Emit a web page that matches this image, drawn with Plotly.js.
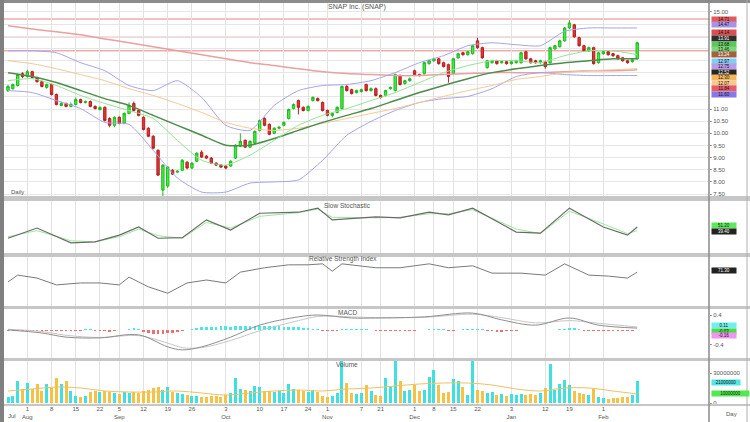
<!DOCTYPE html>
<html><head><meta charset="utf-8">
<script src="https://cdn.plot.ly/plotly-3.0.1.min.js"></script>
<style>html,body{margin:0;padding:0;background:#fff}#chart{width:750px;height:422px}</style>
</head><body><div id="chart"></div>
<script>
const chartTitle = 'SNAP Inc. (SNAP)';

const openP = [11.76,11.84,11.97,12.46,12.34,12.54,12.30,12.13,11.89,12.01,
11.60,11.15,11.23,11.11,11.19,11.39,11.27,11.31,11.11,10.98,
11.07,10.61,10.33,10.66,10.41,10.82,11.23,10.94,10.66,10.21,
9.88,9.30,7.66,7.83,8.48,8.40,8.48,8.81,8.57,8.85,
9.22,9.06,8.98,8.77,8.69,8.65,8.65,8.98,9.47,9.71,
9.43,9.59,10.12,10.61,10.37,10.00,10.21,10.33,10.61,11.02,
11.35,11.07,10.94,11.35,11.43,11.27,10.94,10.74,10.86,11.02,
11.93,11.80,11.68,11.72,12.01,11.76,11.84,11.56,11.56,11.84,
11.76,12.38,12.05,12.17,12.58,12.42,12.46,12.87,12.99,13.07,
12.91,12.83,12.46,13.11,13.32,13.24,13.28,13.81,13.53,12.71,
12.91,12.99,12.91,12.95,12.87,12.91,12.91,13.36,13.07,12.99,
12.91,12.95,12.91,13.48,13.57,13.81,14.34,14.47,13.94,13.61,
13.40,13.53,12.91,13.28,13.36,13.28,13.20,13.11,12.99,12.95,
13.07];
const closeP = [11.93,12.01,12.42,12.34,12.54,12.30,12.13,11.93,12.01,11.60,
11.19,11.23,11.11,11.19,11.39,11.27,11.31,11.11,11.02,11.07,
10.53,10.33,10.66,10.41,10.82,11.15,10.94,10.74,10.16,9.88,
9.39,8.28,8.69,8.61,8.32,8.44,8.89,8.57,8.77,9.18,
9.02,8.98,8.77,8.69,8.61,8.57,8.85,9.51,9.67,9.43,
9.67,10.08,10.53,10.33,9.96,10.21,10.25,10.45,10.98,11.19,
11.07,10.94,11.11,11.48,11.35,10.94,10.74,10.82,11.07,11.93,
11.76,11.64,11.76,11.80,11.76,11.84,11.56,11.48,11.76,11.89,
12.42,12.01,12.17,12.25,12.42,12.38,12.91,12.99,13.07,12.87,
12.75,12.34,13.07,13.28,13.24,13.36,13.61,13.53,13.11,12.99,
12.99,12.87,12.95,12.87,12.95,12.99,13.32,13.07,12.91,12.91,
12.99,12.75,13.53,13.61,13.81,14.34,14.55,13.98,13.61,13.40,
13.53,12.87,13.32,13.36,13.24,13.20,13.07,12.99,12.91,13.03,
13.73];
const highP = [12.00,12.05,12.46,12.52,12.62,12.58,12.34,12.17,12.05,12.05,
11.64,11.31,11.27,11.27,11.48,11.43,11.35,11.35,11.15,11.11,
11.11,10.66,10.70,10.70,10.86,11.27,11.31,10.98,10.70,10.25,
9.92,9.34,8.73,8.65,8.52,8.48,8.94,8.85,8.81,9.22,
9.30,9.10,9.02,8.81,8.73,8.69,8.89,9.55,10.00,9.75,
9.71,10.12,10.57,10.66,10.41,10.25,10.29,10.49,11.02,11.23,
11.39,11.11,11.15,11.52,11.48,11.31,10.98,10.86,11.11,11.97,
12.01,11.84,11.80,11.84,12.05,11.89,11.89,11.60,11.80,11.93,
12.46,12.42,12.21,12.30,12.62,12.46,12.95,13.03,13.11,13.11,
12.95,12.87,13.11,13.32,13.36,13.40,13.65,13.94,13.57,13.03,
13.03,13.03,12.99,12.99,12.99,13.03,13.36,13.40,13.11,13.03,
13.03,12.99,13.57,13.65,13.86,14.38,14.67,14.51,13.98,13.65,
13.57,13.57,13.36,13.40,13.40,13.32,13.24,13.15,13.03,13.07,
13.77];
const lowP = [11.70,11.80,11.93,12.28,12.30,12.25,12.09,11.89,11.84,11.56,
11.15,11.11,11.07,11.07,11.15,11.23,11.23,11.07,10.98,10.94,
10.49,10.25,10.25,10.37,10.37,10.78,10.90,10.70,10.12,9.84,
9.34,8.24,7.42,7.75,8.28,8.36,8.44,8.52,8.52,8.81,
8.98,8.94,8.73,8.65,8.57,8.52,8.61,8.94,9.43,9.39,
9.39,9.55,10.08,10.29,9.92,9.96,10.16,10.29,10.57,10.98,
10.78,10.90,10.90,11.31,11.31,10.90,10.70,10.66,10.82,10.98,
11.72,11.60,11.64,11.68,11.72,11.72,11.52,11.43,11.52,11.80,
11.72,11.97,12.01,12.13,12.38,12.34,12.42,12.83,12.95,12.83,
12.71,12.09,12.42,13.07,13.20,13.20,13.24,13.48,13.07,12.66,
12.87,12.83,12.87,12.83,12.83,12.87,12.87,13.03,12.87,12.87,
12.87,12.66,12.87,13.44,13.53,13.77,14.30,13.94,13.57,13.36,
13.36,12.83,12.87,13.24,13.20,13.15,13.03,12.95,12.87,12.91,
13.03];
// volume in millions of shares
const volume = [6,7,22,14,20,14,19,12,19,15,
25,19,22,12,7,6,7,11,12,11,
12,11,10,9,11,10,11,10,12,13,
15,16,13,16,11,10,9,8,7,7,
6,6,7,7,6,8,10,25,14,13,
12,17,16,12,12,11,12,10,19,14,
13,12,11,13,11,7,6,7,10,48,
20,10,9,10,18,12,8,7,25,16,
42,22,12,13,18,12,13,26,33,18,
10,11,24,22,16,8,45,13,12,10,
11,8,9,7,9,8,9,8,9,8,
10,15,39,13,19,23,18,12,10,9,
8,14,6,5,4,5,5,6,6,8,
22];

// indicator lines, sampled every 5 sessions
const lineIdx = [0,5,10,15,20,25,30,35,40,45,50,55,60,65,70,75,80,85,90,95,100,105,110,115,120,125,130];
const ma200 = [14.43,14.30,14.18,14.06,13.89,13.73,13.57,13.40,13.24,13.07,12.91,12.79,12.66,12.54,12.46,12.42,12.38,12.38,12.42,12.46,12.50,12.50,12.50,12.54,12.58,12.58,12.62];
const bbUpper = [13.40,13.40,13.32,12.91,12.58,11.97,11.76,12.17,11.48,10.33,10.12,11.15,11.76,11.97,12.01,12.17,12.50,12.91,13.20,13.61,13.73,13.65,13.61,14.20,14.34,14.34,14.34];
const bbLower = [11.76,11.68,11.35,11.02,10.45,10.37,9.30,8.16,7.58,7.58,7.95,8.00,8.08,8.89,9.92,10.49,10.94,11.27,11.43,11.52,11.84,12.34,12.50,12.42,12.38,12.38,12.38];
const ma50 = [12.50,12.34,12.09,11.76,11.43,11.15,10.74,10.33,9.92,9.51,9.51,9.79,10.12,10.45,10.74,11.02,11.35,11.68,11.97,12.25,12.50,12.66,12.79,12.91,12.99,13.07,13.07];
const ma100 = [12.99,12.87,12.66,12.42,12.17,11.84,11.56,11.23,10.86,10.45,10.21,10.12,10.21,10.41,10.61,10.82,11.02,11.27,11.52,11.76,11.97,12.22,12.34,12.50,12.58,12.62,12.66];
const ma20 = [12.17,12.25,11.97,11.56,11.23,10.94,10.61,9.71,8.89,8.69,9.10,9.71,10.33,10.74,11.02,11.35,11.68,12.09,12.50,12.79,12.99,12.99,12.91,13.20,13.40,13.40,13.24];
const volMA = [12,14,16,15,12,11,11,12,10,8,10,12,13,12,14,15,17,19,20,20,18,14,12,15,15,12,9];
const levels = [14.71, 13.98, 13.40];

const stochIdx = [0,6,13,18,23,27,31,36,41,46,52,60,64,67,76,81,87,91,96,105,110,116,123,128,130];
const stochK = [27,47,18,20,33,49,27,28,63,43,76,78,86,63,69,67,78,73,86,39,37,86,49,33,49];
const stochD = [30,42,22,20,30,45,32,27,58,47,70,77,84,68,67,68,75,75,83,45,36,80,55,36,42];

const rsiIdx = [0,2,6,10,15,19,23,25,29,33,37,41,45,48,53,58,62,65,67,69,76,81,87,91,96,100,106,111,115,120,124,128,130];
const rsi = [47,61,55,41,45,45,41,57,37,24,45,51,45,67,76,82,82,84,69,84,76,76,84,76,80,65,65,61,84,61,59,55,67];

const macdIdx = [0,7,12,19,27,33,36,40,46,52,60,64,71,76,86,96,102,109,116,122,130];
const macd = [0.00,-0.08,-0.19,-0.21,-0.13,-0.45,-0.53,-0.45,-0.19,0.13,0.35,0.40,0.32,0.32,0.35,0.45,0.27,0.13,0.32,0.13,0.05];
const signal = [0.02,-0.04,-0.14,-0.20,-0.15,-0.35,-0.47,-0.47,-0.28,-0.02,0.25,0.36,0.35,0.33,0.34,0.42,0.33,0.19,0.25,0.18,0.08];
const hist = [-0.03,-0.03,-0.02,-0.03,-0.03,-0.02,-0.03,-0.03,-0.02,-0.03,-0.03,-0.02,-0.03,-0.03,-0.02,-0.02,
0.03,0.03,
-0.03,-0.04,-0.04,-0.05,-0.03,
0.00,0.01,
0.04,0.05,0.03,
-0.05,-0.08,-0.10,-0.12,-0.10,-0.08,-0.07,-0.05,-0.03,
0.01,
0.03,0.05,0.07,0.08,0.09,0.09,0.10,0.10,0.09,0.10,0.11,0.11,0.10,0.10,0.11,0.12,0.12,0.11,0.10,0.09,0.08,0.08,0.07,0.06,0.05,0.04,0.03,
-0.02,-0.03,-0.03,-0.02,
0.03,0.04,0.04,0.03,0.02,0.02,0.01,
-0.02,-0.03,-0.03,-0.03,-0.02,-0.03,-0.03,-0.02,-0.02,-0.01,-0.01,
0.03,0.04,0.04,0.03,
-0.02,-0.02,-0.01,
0.02,0.03,0.04,0.03,0.02,
-0.03,-0.04,-0.05,-0.05,-0.04,-0.04,-0.03,
-0.01,-0.01,0.00,0.00,-0.01,0.00,0.01,0.01,0.02,
0.04,0.05,0.05,0.03,
-0.02,-0.03,-0.04,-0.04,-0.04,-0.04,-0.03,-0.03,-0.03,-0.02,-0.02,-0.01];

const tickIdx = [4,9,14,19,23,28,33,38,45,52,57,62,66,73,77,84,88,92,97,104,111,116,123];
const tickText = ['1<br>Aug','8','15','22','5<br>Sep','12','19','26','3<br>Oct','10','17','24','1<br>Nov','7','21','1<br>Dec','8','15','22','3<br>Jan','12','19','1<br>Feb'];

// value labels on the right edge
const mainLabelVals = [14.71,14.47,14.14,13.91,13.68,13.46,13.24,12.97,12.75,12.52,12.30,12.07,11.84,11.60];
const stochLabelVals = [51.2, 39.4];
const rsiLabelVals = [71.3];
const macdLabelVals = [0.11, -0.03, -0.16];
const volLabelVals = [21, 10];

// ---------- styles / layout helpers ----------
const mainLabelColors = ['#e25a5a','#a892e6','#de4e4e','#2e2e2e','#5cc85c','#7dd67d','#a2623e','#82cdf2','#b99be8','#262626','#f3b65c','#f8c98e','#e65a6a','#8878e6'];
const darkBoxes = ['#2e2e2e','#262626','#222222','#a2623e'];
const F = 'Liberation Sans, Arial, sans-serif';
const PX = px => (px - 4) / 705;
const PY = py => (405 - py) / 402;
const dayIdx = openP.map((_, i) => i);

const traces = [];
traces.push({type:'candlestick', x:dayIdx, open:openP, high:highP, low:lowP, close:closeP,
  xaxis:'x', yaxis:'y', hoverinfo:'skip', whiskerwidth:0,
  increasing:{line:{color:'#22b822', width:1}, fillcolor:'#3ef03e'},
  decreasing:{line:{color:'#b82020', width:1}, fillcolor:'#e23434'}});
const lineSpec = [[ma200,'#e9a0a0',1.5],[bbUpper,'#a4a4ec',1],[bbLower,'#a4a4ec',1],[ma100,'#f2c994',1],[ma50,'#4c8c4c',1.5],[ma20,'#94e294',1]];
lineSpec.forEach(([vals,c,w]) => traces.push({type:'scatter', mode:'lines', x:lineIdx, y:vals, xaxis:'x', yaxis:'y', line:{color:c, width:w, shape:'spline', smoothing:0.6}, hoverinfo:'skip'}));
traces.push({type:'scatter', mode:'lines', x:stochIdx, y:stochD, xaxis:'x', yaxis:'y2', line:{color:'#9be89b', width:1}, hoverinfo:'skip'});
traces.push({type:'scatter', mode:'lines', x:stochIdx, y:stochK, xaxis:'x', yaxis:'y2', line:{color:'#6a6a6a', width:1.2}, hoverinfo:'skip'});
traces.push({type:'scatter', mode:'lines', x:rsiIdx, y:rsi, xaxis:'x', yaxis:'y3', line:{color:'#7a7a7a', width:1}, hoverinfo:'skip'});
traces.push({type:'bar', x:dayIdx, y:hist, xaxis:'x', yaxis:'y4', width:0.55,
  marker:{color:hist.map(v => v >= 0 ? '#4ce6e6' : '#f07070'), line:{width:0}}, hoverinfo:'skip'});
traces.push({type:'scatter', mode:'lines', x:macdIdx, y:signal, xaxis:'x', yaxis:'y4', line:{color:'#c6c6c6', width:1, shape:'spline'}, hoverinfo:'skip'});
traces.push({type:'scatter', mode:'lines', x:macdIdx, y:macd, xaxis:'x', yaxis:'y4', line:{color:'#8e8e8e', width:1, shape:'spline'}, hoverinfo:'skip'});
traces.push({type:'bar', x:dayIdx, y:volume, xaxis:'x', yaxis:'y5', width:0.62,
  marker:{color:closeP.map((c,i) => c >= openP[i] ? '#40e0e0' : '#f6c244'), line:{width:0}}, hoverinfo:'skip'});
traces.push({type:'scatter', mode:'lines', x:lineIdx, y:volMA, xaxis:'x', yaxis:'y5', line:{color:'#f0c060', width:1, shape:'spline'}, hoverinfo:'skip'});

const ann = [];
function box(val, yref, color, txt, w) {
  ann.push({xref:'paper', x:PX(711), xanchor:'left', yref:yref, y:val, yanchor:'middle',
    text:txt, showarrow:false, bgcolor:color, width:w || 24, height:5, borderpad:0,
    font:{family:F, size:4.5, color: darkBoxes.includes(color) ? '#ffffff' : '#111111'}});
}
mainLabelVals.forEach((v,i) => box(v, 'y', mainLabelColors[i], v.toFixed(2)));
box(stochLabelVals[0], 'y2', '#5ee85e', stochLabelVals[0].toFixed(2));
box(stochLabelVals[1], 'y2', '#222222', stochLabelVals[1].toFixed(2));
box(rsiLabelVals[0], 'y3', '#222222', rsiLabelVals[0].toFixed(2));
box(macdLabelVals[0], 'y4', '#72eeee', macdLabelVals[0].toFixed(2));
box(macdLabelVals[1], 'y4', '#48e048', macdLabelVals[1].toFixed(2));
box(macdLabelVals[2], 'y4', '#f096f0', macdLabelVals[2].toFixed(2));
box(volLabelVals[0], 'y5', '#52e6e6', (volLabelVals[0]*1e6).toFixed(0), 28);
box(volLabelVals[1], 'y5', '#52e852', (volLabelVals[1]*1e6).toFixed(0), 37);

function label(text, px, py, size, anchor) {
  ann.push({xref:'paper', yref:'paper', x:PX(px), y:PY(py), xanchor:anchor || 'center', yanchor:'middle',
    text:text, showarrow:false, font:{family:F, size:size, color:'#555'}});
}
label(chartTitle, 357, 7, 7);
label('Slow Stochastic', 347, 205, 6.5);
label('Relative Strength Index', 343, 259, 6.5);
label('MACD', 347, 312, 6.5);
label('Volume', 347, 364, 6.5);
label('Daily', 9, 192, 6, 'left');
label('Jul', 12, 416, 6);
label('Day', 731, 414, 6);

const shapes = [];
levels.forEach(v => shapes.push({type:'line', xref:'paper', x0:0, x1:1, yref:'y', y0:v, y1:v, layer:'below', line:{color:'#f2abab', width:1.5}}));
function band(py0, py1, color) {
  shapes.push({type:'rect', xref:'paper', x0:PX(0), x1:PX(750), yref:'paper', y0:PY(py1), y1:PY(py0), line:{width:0}, fillcolor:color, layer:'above'});
}
band(196, 201, '#c6c6c6');
band(253, 257, '#c6c6c6');
band(306, 309, '#c6c6c6');
band(358, 361, '#c6c6c6');
band(404, 406, '#c6c6c6');
band(0, 3, '#8c8c8c');
shapes.push({type:'rect', xref:'paper', x0:PX(0), x1:PX(4), yref:'paper', y0:PY(422), y1:PY(0), line:{width:0}, fillcolor:'#808080'});
shapes.push({type:'line', xref:'paper', x0:1, x1:1, yref:'paper', y0:PY(422), y1:PY(0), line:{color:'#8a8a8a', width:1.5}});
shapes.push({type:'line', xref:'paper', x0:PX(747), x1:PX(747), yref:'paper', y0:PY(422), y1:PY(0), line:{color:'#b0b0b0', width:1}});

const yBase = {side:'right', zeroline:false, showline:false, fixedrange:true,
  tickfont:{family:F, size:6, color:'#555'}, ticks:'outside', ticklen:2, tickcolor:'#999'};
const layout = {
  width:750, height:422, margin:{l:4, r:41, t:3, b:17},
  paper_bgcolor:'#ffffff', plot_bgcolor:'#ffffff', showlegend:false, bargap:0,
  font:{family:F, size:6, color:'#555'},
  xaxis:{domain:[0,1], range:[-0.826, 144.83], anchor:'y5', tickmode:'array', tickvals:tickIdx, ticktext:tickText,
    showgrid:true, gridcolor:'#e2e2e2', gridwidth:1, zeroline:false, showline:false, ticks:'',
    tickfont:{family:F, size:6, color:'#555'}, rangeslider:{visible:false}, fixedrange:true},
  yaxis:Object.assign({}, yBase, {domain:[PY(196), 1], range:[7.418, 15.369],
    tickmode:'array', tickvals:[7.5,8,8.5,9,9.5,10,10.5,11,15], tickformat:'.2f',
    showgrid:true, gridcolor:'#e6e6e6', minor:{dtick:0.5, tick0:0, showgrid:true, gridcolor:'#e6e6e6', ticks:''}}),
  yaxis2:Object.assign({}, yBase, {domain:[PY(253), PY(201)], range:[-1.96, 100], showgrid:false, showticklabels:false, ticks:''}),
  yaxis3:Object.assign({}, yBase, {domain:[PY(306), PY(257)], range:[-2.04, 97.96], showgrid:false, showticklabels:false, ticks:''}),
  yaxis4:Object.assign({}, yBase, {domain:[PY(358), PY(309)], range:[-0.747, 0.56], showgrid:false,
    tickmode:'array', tickvals:[0.4,-0.4], ticktext:['0.4','-0.4']}),
  yaxis5:Object.assign({}, yBase, {domain:[PY(404), PY(361)], range:[-1, 42], showgrid:false,
    tickmode:'array', tickvals:[0,30], ticktext:['0','30000000']}),
  annotations:ann, shapes:shapes
};
Plotly.newPlot('chart', traces, layout, {displayModeBar:false, staticPlot:true});
</script>
</body></html>
